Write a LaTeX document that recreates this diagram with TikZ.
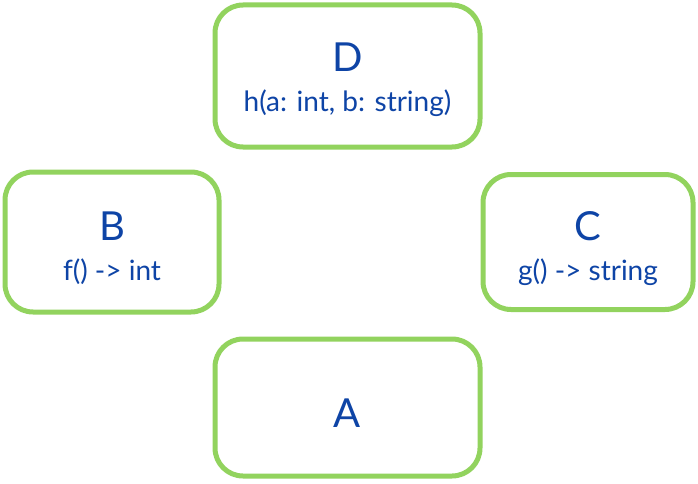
\documentclass[tikz,border=0pt]{standalone}
\usepackage{fontspec}
\setmainfont{Lato}
\definecolor{gborder}{HTML}{92D35E}
\definecolor{btext}{HTML}{0E44A6}
\begin{document}
\begin{tikzpicture}[x=1pt,y=-1pt,
  box/.style={draw=gborder,line width=5pt,rounded corners=28pt,fill=white,inner sep=0pt},
  title/.style={text=btext,font=\fontsize{40}{42}\selectfont,inner sep=0pt,anchor=base},
  sub/.style={text=btext,font=\fontsize{28}{30}\selectfont,inner sep=0pt,anchor=base}]
\useasboundingbox (0,0) rectangle (698,484);
\node[box,minimum width=265pt,minimum height=142pt] (D) at (347.5,76) {};
\node[box,minimum width=214pt,minimum height=140pt] (B) at (112,242) {};
\node[box,minimum width=210pt,minimum height=135pt] (C) at (588,242) {};
\node[box,minimum width=265pt,minimum height=137pt] (A) at (347.5,407.5) {};
\node[title] (Dt) at (347.5,72) {D};
\node[sub] (Ds) at (347.5,111) {h(a: int, b: string)};
\node[title] (Bt) at (112,240) {B};
\node[sub] (Bs) at (112,280) {f() -> int};
\node[title] (Ct) at (588,240) {C};
\node[sub] (Cs) at (588,280) {g() -> string};
\node[title] (At) at (347.5,427) {A};
\end{tikzpicture}
\end{document}
